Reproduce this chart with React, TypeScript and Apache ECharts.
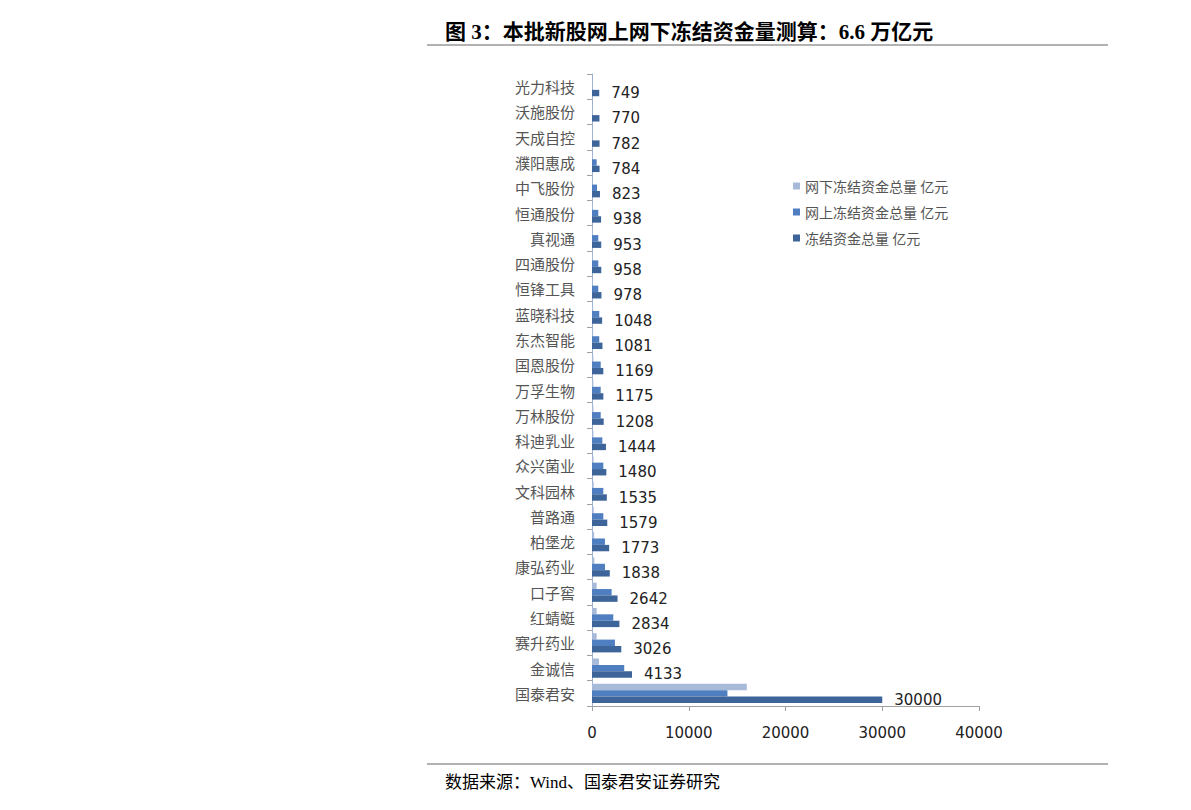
import { useEffect, useRef } from 'react';
import * as echarts from 'echarts';

// categories top to bottom
const companies = [
  '光力科技', '沃施股份', '天成自控', '濮阳惠成', '中飞股份', '恒通股份', '真视通',
  '四通股份', '恒锋工具', '蓝晓科技', '东杰智能', '国恩股份', '万孚生物', '万林股份',
  '科迪乳业', '众兴菌业', '文科园林', '普路通', '柏堡龙', '康弘药业', '口子窖',
  '红蜻蜓', '赛升药业', '金诚信', '国泰君安'
];

// 网下冻结资金总量 (亿元), estimated
const offline = [
  0, 0, 0, 60, 80, 100, 100, 100, 110, 120, 120, 140, 140, 150,
  150, 160, 170, 180, 220, 240, 480, 480, 480, 720, 16000
];

// 网上冻结资金总量 (亿元), estimated
const online = [
  0, 0, 0, 480, 520, 650, 650, 650, 650, 750, 750, 900, 900, 900,
  1070, 1170, 1170, 1170, 1340, 1340, 2030, 2200, 2370, 3330, 14000
];

// 冻结资金总量 (亿元)
const total = [
  749, 770, 782, 784, 823, 938, 953, 958, 978, 1048, 1081, 1169, 1175, 1208,
  1444, 1480, 1535, 1579, 1773, 1838, 2642, 2834, 3026, 4133, 30000
];

const seriesNames = ['网下冻结资金总量 亿元', '网上冻结资金总量 亿元', '冻结资金总量 亿元'];
const colors = ['#a8bada', '#4f7fc0', '#3e6599'];

const xTicks = [0, 10000, 20000, 30000, 40000];

const cjk = '"Noto Sans CJK SC", sans-serif';
const latin = '"DejaVu Sans", "Noto Sans CJK SC", sans-serif';
const serif = '"Liberation Serif", "Noto Sans CJK SC", serif';

export default function App() {
  const ref = useRef<HTMLDivElement>(null);

  useEffect(() => {
    document.body.style.margin = '0';
    if (!ref.current) return;
    const chart = echarts.init(ref.current, null, { renderer: 'svg' });
    const data = [offline, online, total];
    chart.setOption({
      animation: false,
      backgroundColor: '#fff',
      title: [
        {
          text: '图 3：本批新股网上网下冻结资金量测算：6.6 万亿元',
          left: 440,
          top: 16,
          textStyle: { fontFamily: serif, fontWeight: 'bold', fontSize: 21, color: '#000' }
        },
        {
          text: '数据来源：Wind、国泰君安证券研究',
          left: 440,
          top: 769,
          textStyle: { fontFamily: serif, fontWeight: 'normal', fontSize: 17, color: '#000' }
        }
      ],
      graphic: [
        {
          type: 'line',
          shape: { x1: 427, y1: 45, x2: 1108, y2: 45 },
          style: { stroke: '#999', lineWidth: 1.5 }
        },
        {
          type: 'line',
          shape: { x1: 427, y1: 764, x2: 1108, y2: 764 },
          style: { stroke: '#999', lineWidth: 1.5 }
        }
      ],
      legend: {
        orient: 'vertical',
        left: 788,
        top: 174,
        itemWidth: 7,
        itemHeight: 7,
        itemGap: 12,
        icon: 'rect',
        data: seriesNames,
        textStyle: { fontFamily: cjk, fontSize: 14, color: '#555' }
      },
      grid: { left: 592, right: 212, top: 74, bottom: 104, containLabel: false },
      xAxis: {
        type: 'value',
        min: 0,
        max: 40000,
        interval: 10000,
        splitLine: { show: false },
        axisLine: { show: true, lineStyle: { color: '#a0a0a0' } },
        axisTick: { show: true, length: 5, lineStyle: { color: '#a0a0a0' } },
        axisLabel: {
          margin: 19,
          fontFamily: latin,
          fontSize: 15,
          color: '#222',
          formatter: (v: number) => (xTicks.includes(v) ? String(v) : '')
        }
      },
      yAxis: {
        type: 'category',
        inverse: true,
        data: companies,
        axisLine: { show: true, lineStyle: { color: '#9fb1d0' } },
        axisTick: { show: true, length: 5, lineStyle: { color: '#a0a0a0' } },
        axisLabel: { margin: 17, fontFamily: cjk, fontSize: 15, color: '#555' }
      },
      series: seriesNames.map((name, i) => ({
        name,
        type: 'bar',
        data: data[i],
        barWidth: 6.4,
        barGap: '0%',
        itemStyle: { color: colors[i] },
        label:
          i === 2
            ? {
                show: true,
                position: 'right',
                distance: 12,
                fontFamily: latin,
                fontSize: 15,
                color: '#222'
              }
            : { show: false }
      }))
    });
    return () => {
      chart.dispose();
    };
  }, []);

  return <div ref={ref} style={{ width: 1191, height: 810 }} />;
}
